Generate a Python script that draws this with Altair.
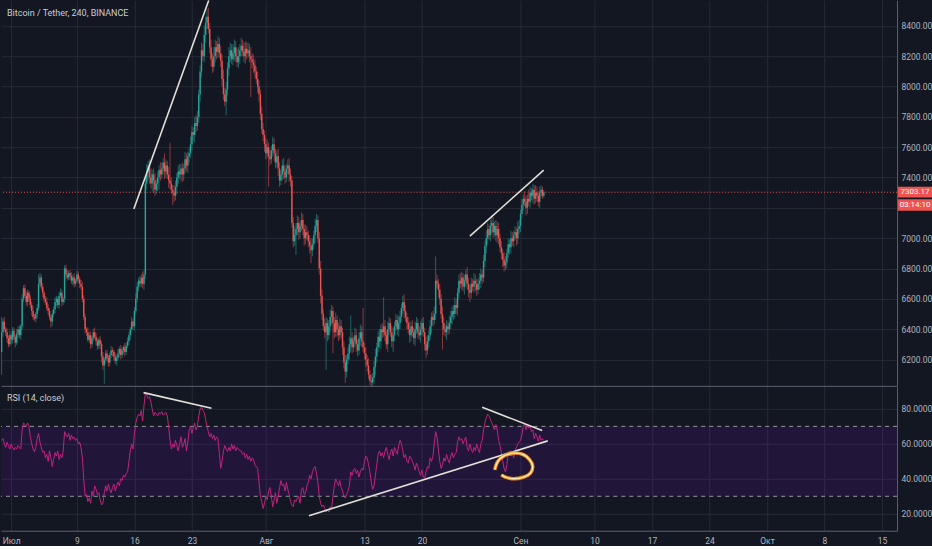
import altair as alt
import pandas as pd

BG = "#131722"
GRID = "#262a35"
DOMAIN = "#5d606b"
LABEL = "#b2b5be"
UP = "#26a69a"
DN = "#ef5350"
RSI_C = "#c0247e"
DRAW = "#e3e0d8"
FONT = "Roboto"
FS = 8.5

TITLE = "Bitcoin / Tether, 240, BINANCE"
RSI_TITLE = "RSI (14, close)"
LAST_PRICE = 7303.17
COUNTDOWN = "03:14:10"
FIRST_OPEN = 6250
HIDDEN_TICK = 7200  # covered by the countdown box in the reference

# 4h closes, from 2018-06-29 20:00
close = [6380, 6450, 6400,
         6380, 6340, 6300, 6360, 6330, 6390, 6350, 6310, 6370, 6400, 6360, 6420,
         6600, 6670,
         6620, 6580, 6640, 6600, 6560, 6520, 6480, 6470, 6500, 6540,
         6700, 6740,
         6680, 6640, 6600, 6580, 6540, 6520, 6480, 6450, 6500, 6530, 6580, 6600, 6560, 6620, 6640, 6580, 6600,
         6800,
         6760, 6740, 6770, 6750, 6720, 6740, 6700, 6720, 6760, 6730, 6700, 6680,
         6600, 6480, 6400,
         6380, 6330, 6360, 6300, 6340, 6380, 6350, 6320, 6290, 6330, 6300,
         6220, 6160,
         6200, 6240, 6210, 6180, 6230, 6260, 6250, 6220, 6190, 6210, 6240, 6270, 6230, 6260, 6280, 6250, 6290, 6320,
         6360, 6400, 6450, 6420,
         6520, 6600, 6680, 6720, 6700, 6740, 6700,
         6760, 7360,
         7440, 7480, 7400, 7360, 7420, 7380, 7320, 7360, 7400, 7450, 7420,
         7460, 7500, 7440, 7480, 7420, 7380, 7360, 7320,
         7300, 7280, 7340,
         7400, 7440, 7420, 7460, 7420, 7460, 7520, 7480, 7540, 7560,
         7620, 7700, 7680, 7760, 7740, 7800,
         7950, 8100, 8240, 8200,
         8340, 8420, 8460, 8380,
         8260, 8180, 8130,
         8200, 8260, 8230, 8280, 8220, 8170,
         8050, 7950, 7900, 7980,
         8120, 8200, 8240,
         8180, 8220, 8260, 8200, 8160, 8200, 8240, 8270, 8230, 8200, 8250, 8220, 8240, 8200, 8180, 8160, 8140,
         8100, 8050, 8000, 7950,
         7820, 7720, 7680,
         7620, 7560, 7600, 7540, 7520, 7580, 7620, 7560, 7500, 7540, 7460, 7380,
         7420, 7480, 7440, 7400, 7460, 7480, 7420, 7380,
         7100, 6980,
         7020, 7060, 7100, 7040, 7080, 7120, 7060, 7000, 7040, 7020, 6980, 6950, 6920, 6960, 7020, 7080, 7120,
         7000, 6800, 6620,
         6500, 6420, 6380, 6440, 6360,
         6420, 6480, 6520, 6440, 6380, 6460, 6400, 6360, 6420, 6380,
         6280, 6180, 6120, 6200, 6240,
         6300, 6340, 6280, 6320, 6360, 6300, 6260, 6340, 6380, 6320, 6280, 6240, 6200, 6160,
         6100, 6060, 6050, 6080, 6150,
         6220, 6280, 6350, 6320, 6400, 6380, 6420,
         6360, 6300, 6400, 6440, 6380, 6320, 6360, 6420, 6460, 6400, 6440, 6480,
         6540, 6580, 6520, 6480,
         6440, 6400, 6360, 6420, 6380, 6340, 6400, 6440, 6380, 6360, 6400,
         6440, 6380, 6300, 6260, 6320,
         6360, 6420, 6480, 6460, 6500,
         6720,
         6700, 6660, 6600,
         6500, 6440, 6400, 6380, 6420, 6400, 6440,
         6480, 6520, 6500, 6560, 6540,
         6640, 6720,
         6700, 6740, 6680, 6720, 6760, 6700, 6660, 6640, 6700, 6680, 6720, 6700, 6660, 6700, 6720, 6760, 6740,
         6850, 6950, 7000, 7060, 7020,
         7080, 7100, 7040, 7080, 7020, 7060, 7000,
         6940, 6900, 6860, 6820, 6840,
         6900, 6960, 6940, 7000, 6980, 7020, 7040, 7000, 7060, 7080,
         7160, 7220, 7260, 7240, 7200,
         7260, 7240, 7300, 7280, 7320, 7260, 7300, 7280, 7240, 7300, 7320, 7280, 7303.17]

hi_ext = [100, 20, 30, 15, 25, 20, 30, 10, 25, 20, 15, 30, 20, 25, 15, 30, 20, 25, 30, 20,
          15, 25, 20, 30, 20, 15, 25, 60, 30, 20, 25, 15, 20, 30, 25, 20, 15, 25, 20, 30,
          20, 15, 25, 30, 20, 15, 20, 25, 30, 15, 20, 25, 20, 30, 15, 25, 20, 15, 25, 30,
          25, 20, 15, 30, 20, 25, 15, 20, 30, 25, 20, 15, 25, 20, 30, 15, 20, 25, 20, 15,
          30, 20, 15, 25, 20, 30, 15, 25, 20, 15, 30, 20, 25, 20, 15, 30, 20, 25, 40, 30,
          20, 30, 25, 40, 30, 40, 50, 30, 40, 60, 30, 40, 50, 30, 40, 30, 50, 40, 30, 60,
          40, 30, 50, 250, 40, 30, 50, 40, 30, 40, 50, 30, 40, 30, 50, 40, 30, 40, 50, 40,
          30, 40, 50, 40, 30, 40, 50, 40, 60, 40, 50, 60, 40, 50, 40, 60, 50, 40, 50, 40,
          50, 40, 60, 40, 50, 40, 60, 50, 40, 60, 50, 40, 50, 60, 40, 50, 40, 60, 50, 40,
          50, 40, 60, 40, 50, 40, 30, 50, 40, 30, 50, 40, 30, 40, 50, 30, 40, 30, 50, 40,
          30, 40, 50, 40, 30, 40, 50, 40, 30, 40, 50, 40, 30, 40, 60, 40, 50, 40, 30, 50,
          40, 30, 50, 40, 30, 40, 50, 40, 30, 50, 40, 30, 40, 50, 40, 30, 50, 40, 30, 40,
          50, 40, 30, 40, 50, 30, 40, 50, 40, 30, 40, 50, 30, 40, 50, 150, 40, 30, 50, 40,
          30, 40, 50, 40, 220, 30, 40, 30, 50, 30, 40, 30, 40, 50, 30, 40, 50, 30, 40, 190,
          40, 30, 50, 40, 30, 40, 50, 30, 40, 30, 50, 40, 30, 40, 50, 40, 30, 40, 50, 30,
          40, 30, 50, 40, 30, 40, 50, 30, 40, 30, 50, 40, 30, 40, 30, 40, 50, 160, 40, 30,
          40, 30, 50, 40, 30, 40, 30, 50, 40, 30, 40, 50, 40, 30, 40, 50, 40, 30, 40, 30,
          50, 40, 30, 40, 30, 50, 40, 30, 40, 50, 40, 30, 40, 30, 50, 40, 30, 40, 50, 40,
          30, 40, 50, 40, 30, 40, 30, 50, 40, 30, 40, 30, 50, 40, 30, 40, 30, 50, 40, 30,
          40, 30, 50, 40, 30, 60, 40, 30, 40, 30, 50, 40, 30, 40, 30, 20, 15]

lo_ext = [150, 30, 20, 25, 30, 20, 15, 30, 25, 20, 30, 15, 25, 20, 30, 25, 20, 15, 25, 30,
          20, 25, 30, 20, 15, 25, 30, 20, 25, 20, 30, 25, 20, 15, 25, 20, 40, 30, 20, 25,
          30, 20, 25, 15, 30, 20, 25, 30, 20, 15, 25, 20, 30, 25, 20, 15, 25, 30, 20, 25,
          20, 30, 25, 15, 20, 30, 25, 20, 15, 30, 25, 20, 30, 40, 30, 120, 25, 20, 30, 25,
          20, 30, 25, 20, 30, 15, 25, 30, 20, 25, 30, 20, 15, 25, 30, 20, 25, 30, 20, 25,
          30, 25, 20, 30, 40, 30, 40, 60, 40, 30, 50, 80, 40, 30, 50, 80, 40, 30, 40, 50,
          40, 30, 50, 40, 30, 80, 40, 30, 50, 40, 30, 40, 50, 40, 30, 40, 50, 40, 30, 40,
          40, 50, 40, 30, 40, 50, 40, 30, 40, 50, 40, 30, 40, 50, 40, 30, 40, 50, 40, 30,
          40, 50, 40, 30, 90, 40, 50, 40, 30, 40, 50, 40, 30, 40, 50, 40, 30, 40, 50, 40,
          30, 40, 250, 40, 50, 40, 30, 40, 50, 40, 30, 40, 50, 40, 30, 200, 40, 30, 40, 50,
          40, 30, 50, 40, 30, 40, 50, 40, 30, 40, 50, 40, 30, 40, 30, 130, 40, 50, 40, 30,
          40, 50, 40, 30, 40, 50, 85, 40, 30, 50, 40, 30, 40, 50, 40, 30, 40, 250, 40, 30,
          40, 50, 200, 40, 30, 50, 40, 30, 40, 50, 40, 75, 40, 30, 40, 50, 40, 30, 40, 50,
          40, 30, 50, 40, 30, 40, 50, 40, 30, 30, 40, 30, 40, 50, 40, 30, 40, 50, 40, 30,
          40, 30, 50, 40, 30, 40, 70, 40, 30, 40, 50, 40, 30, 40, 50, 30, 40, 30, 50, 40,
          30, 40, 50, 30, 40, 30, 50, 40, 30, 40, 50, 30, 40, 30, 50, 40, 30, 40, 30, 50,
          40, 30, 175, 40, 30, 50, 40, 30, 40, 50, 40, 30, 40, 50, 40, 30, 40, 30, 50, 40,
          40, 50, 60, 40, 30, 40, 50, 40, 30, 40, 50, 40, 30, 40, 50, 40, 30, 40, 50, 40,
          30, 40, 50, 40, 30, 40, 50, 40, 30, 40, 30, 50, 40, 30, 40, 30, 50, 40, 30, 40,
          30, 40, 30, 50, 40, 30, 40, 30, 50, 40, 30, 40, 30, 40, 30, 20, 15]

rsi = [62, 63,
       60, 58, 61, 59, 57, 60, 58, 56.5,
       58, 57, 59, 58, 57,
       68, 72,
       71, 70, 72, 70,
       64, 60, 57, 55.5, 58,
       63, 66,
       61, 58, 55, 56, 52, 54, 50,
       56, 52, 47, 51,
       55, 53, 56, 51, 54, 52, 56,
       67, 65,
       64, 66, 62, 65, 63, 64, 62, 63,
       60, 61, 58, 52,
       40, 30,
       31, 27, 29, 26,
       33, 30, 36, 34, 31, 32,
       28, 25, 26,
       32, 36, 33, 37, 34, 32, 35, 37, 33, 36,
       38, 36, 40, 39, 42, 41, 43, 44,
       50, 56, 60, 57,
       66, 72, 75, 77, 76,
       79, 73,
       82, 89, 88, 86,
       87, 84, 80, 76, 78, 77, 76,
       78, 77, 78.5, 76.5, 77, 78, 76,
       70, 62, 57, 60,
       58, 62, 59, 56, 60, 64, 58, 60, 63, 56,
       61, 68, 70, 66, 69, 72, 68, 70,
       76, 80, 81, 79, 78,
       74, 70, 67,
       64, 66, 63, 65, 62, 64, 63,
       55, 46, 50,
       56, 59, 57, 55.6,
       58, 56, 60, 57, 59, 56, 58, 57, 56,
       56, 54, 55, 52, 54, 51, 53, 50, 52, 51,
       48, 47, 46,
       38, 30, 27, 23,
       26, 30, 28, 33, 35, 30, 24, 28, 32, 26,
       30, 35, 39, 36, 37, 33, 38, 34, 31, 27,
       25, 24, 28, 27, 29, 30, 26,
       34, 35, 31, 32,
       36, 38, 42, 40, 44, 46, 47, 43, 38,
       30, 26, 24,
       25, 23, 21, 22, 21, 24, 23,
       30, 36, 40, 38, 36, 39, 35, 33,
       30, 29, 31, 33, 36,
       44, 42, 45, 46, 43, 45, 41, 44, 46, 45,
       50, 53, 52, 48, 44,
       38, 34, 36, 42, 48,
       54, 56, 53, 55,
       52, 56, 58, 54, 51, 55, 57, 53, 58, 56, 54, 59, 62,
       60, 56, 52, 54, 50, 49, 53,
       52, 50, 48, 45, 49, 47, 44, 42, 45, 41,
       40.4, 44, 47, 46, 52, 50, 53,
       60, 67, 64,
       57, 50, 46, 48,
       52, 50, 54, 51, 49, 53, 55, 52, 54, 55,
       61, 64, 62, 63, 60, 62, 64,
       58, 56, 60, 57, 55, 58, 56, 60, 57, 55,
       60, 62,
       68, 72, 75, 77, 76, 74, 72,
       70, 68, 71, 68,
       62, 59, 55, 50, 46, 44, 48,
       54, 56, 53, 55, 52, 56, 58,
       60, 61, 62, 65,
       70, 72, 68, 71, 69, 70,
       67, 68, 63, 66, 64, 61.5, 65,
       62, 63, 62]

price_ticks = [6200, 6400, 6600, 6800, 7000, 7200, 7400, 7600, 7800, 8000, 8200, 8400]
rsi_ticks = [20, 40, 60, 80]
rsi_band = [30, 70]
tick_dates = [(7, 1), (7, 9), (7, 16), (7, 23), (8, 1), (8, 13), (8, 20),
              (9, 1), (9, 10), (9, 17), (9, 24), (10, 1), (10, 8), (10, 15)]

# hand-drawn lines: days since 1 July 2018, value
price_line_id = [1, 1, 2, 2]
price_line_day = [14.93, 24.05, 55.83, 64.82]
price_line_val = [7192, 8569, 7014, 7449]
rsi_line_id = [1, 1, 2, 2, 3, 3]
rsi_line_day = [16.11, 24.38, 36.25, 65.31, 57.33, 64.63]
rsi_line_val = [89.3, 80.4, 18.9, 61.7, 81.0, 67.6]
circle_day = [58.86, 59.23, 60.04, 61.17, 62.32, 63.12, 63.48, 63.21, 62.39, 61.17, 60.16, 59.68]
circle_val = [45.2, 49.9, 53.2, 54.7, 53.9, 50.9, 47.1, 43.3, 41.0, 40.0, 41.0, 42.3]

# ---------------- tables ----------------
start = pd.Timestamp("2018-06-29 20:00")
jul1 = pd.Timestamp("2018-07-01")
opens = [FIRST_OPEN] + close[:-1]
candles = pd.DataFrame({
    "t": [start + pd.Timedelta(hours=4 * i) for i in range(len(close))],
    "open": opens,
    "close": close,
})
candles["high"] = [max(o, c) + h for o, c, h in zip(opens, close, hi_ext)]
candles["low"] = [min(o, c) - l for o, c, l in zip(opens, close, lo_ext)]
rsi_df = pd.DataFrame({"t": [start + pd.Timedelta(hours=4 * i) for i in range(len(rsi))], "rsi": rsi})
pl_df = pd.DataFrame({"t": [jul1 + pd.Timedelta(days=d) for d in price_line_day],
                      "v": price_line_val, "id": price_line_id})
rl_df = pd.DataFrame({"t": [jul1 + pd.Timedelta(days=d) for d in rsi_line_day],
                      "v": rsi_line_val, "id": rsi_line_id})
circ_df = pd.DataFrame({"t": [jul1 + pd.Timedelta(days=d) for d in circle_day],
                        "v": circle_val, "o": list(range(len(circle_day)))})
last_df = pd.DataFrame({"p": [LAST_PRICE], "lbl": [f"{LAST_PRICE:.2f}"], "cd": [COUNTDOWN]})
band_df = pd.DataFrame({"lo": [rsi_band[0]], "hi": [rsi_band[1]]})
lvl_df = pd.DataFrame({"v": rsi_band})

W = 897
dom = [alt.DateTime(year=2018, month=6, date=29, hours=18, minutes=14),
       alt.DateTime(year=2018, month=10, date=16, hours=19, minutes=55)]
tvals = [alt.DateTime(year=2018, month=m, date=d) for m, d in tick_dates]
xs = alt.Scale(domain=dom)

x_top_axis = alt.Axis(values=tvals, labels=False, ticks=False, domain=True, domainColor=DOMAIN,
                      grid=True, gridColor=GRID, title=None)
label_expr = ("date(datum.value) == 1 ? ['Янв','Фев','Мар','Апр','Май','Июн','Июл','Авг','Сен','Окт','Ноя','Дек']"
              "[month(datum.value)] : '' + date(datum.value)")
x_bot_axis = alt.Axis(values=tvals, labelExpr=label_expr, ticks=False, domain=True, domainColor=DOMAIN,
                      grid=True, gridColor=GRID, title=None, labelColor=LABEL, labelFontSize=FS,
                      labelFont=FONT, labelPadding=6)

ps = alt.Scale(domain=[6026, 8569], nice=False, zero=False)
p_axis = alt.Axis(orient="right", values=price_ticks,
                  labelExpr=f"datum.value == {HIDDEN_TICK} ? '' : format(datum.value, '.2f')",
                  grid=True, gridColor=GRID,
                  ticks=False, domain=True, domainColor=DOMAIN, labelColor=LABEL, labelFontSize=FS,
                  labelFont=FONT, labelPadding=4, title=None)
rs = alt.Scale(domain=[10.3, 92.6], nice=False, zero=False)
r_axis = alt.Axis(orient="right", values=rsi_ticks, format=".4f", grid=True, gridColor=GRID,
                  ticks=False, domain=True, domainColor=DOMAIN, labelColor=LABEL, labelFontSize=FS,
                  labelFont=FONT, labelPadding=4, title=None)


def XT(axis):
    return alt.X("t:T", scale=xs, axis=axis)


def YP(f):
    return alt.Y(f, scale=ps, axis=p_axis)


def YR(f):
    return alt.Y(f, scale=rs, axis=r_axis)


color = alt.condition("datum.close >= datum.open", alt.value(UP), alt.value(DN))

# ---------------- price pane ----------------
pc = alt.Chart(candles)
wicks = pc.mark_rule(strokeWidth=1, opacity=0.55, clip=True).encode(
    x=XT(x_top_axis), y=YP("low:Q"), y2="high:Q", color=color)
bodies = pc.mark_rule(strokeWidth=1.4, clip=True).encode(
    x=XT(x_top_axis), y=YP("open:Q"), y2="close:Q", color=color)
last_line = alt.Chart(last_df).mark_rule(color=DN, strokeDash=[1, 2], strokeWidth=1).encode(y=YP("p:Q"))
plines = alt.Chart(pl_df).mark_line(color=DRAW, strokeWidth=1.6, clip=True).encode(
    x=XT(x_top_axis), y=YP("v:Q"), detail="id:N")
title = alt.Chart(pd.DataFrame({"s": [TITLE]})).mark_text(
    align="left", baseline="middle", font=FONT, fontSize=FS + 0.5, color="#c9ccd4").encode(
    text="s:N", x=alt.value(6), y=alt.value(13))
box1 = alt.Chart(last_df).mark_rect(color=DN, yOffset=-5.5, y2Offset=5.2).encode(
    x=alt.value(898), x2=alt.value(932), y=YP("p:Q"), y2="p:Q")
box2 = alt.Chart(last_df).mark_rect(color=DN, yOffset=7.1, y2Offset=18.5).encode(
    x=alt.value(898), x2=alt.value(932), y=YP("p:Q"), y2="p:Q")
txt1 = alt.Chart(last_df).mark_text(font=FONT, fontSize=8, color="#ffffff", baseline="middle",
                                    align="center").encode(x=alt.value(915), y=YP("p:Q"), text="lbl:N")
txt2 = alt.Chart(last_df).mark_text(font=FONT, fontSize=8, color="#ffffff", baseline="middle",
                                    align="center", dy=13).encode(x=alt.value(915), y=YP("p:Q"), text="cd:N")

price = alt.layer(last_line, wicks, bodies, plines, title, box1, box2, txt1, txt2).properties(
    width=W, height=386)

# ---------------- RSI pane ----------------
band = alt.Chart(band_df).mark_rect(color="#9915ff", opacity=0.11).encode(
    y=YR("lo:Q"), y2="hi:Q", x=alt.value(0), x2=alt.value(W))
levels = alt.Chart(lvl_df).mark_rule(color="#9598a1", strokeDash=[4, 4], strokeWidth=1).encode(y=YR("v:Q"))
rline = alt.Chart(rsi_df).mark_line(color=RSI_C, strokeWidth=1, clip=True).encode(
    x=XT(x_bot_axis), y=YR("rsi:Q"))
rlines = alt.Chart(rl_df).mark_line(color=DRAW, strokeWidth=1.6, clip=True).encode(
    x=XT(x_bot_axis), y=YR("v:Q"), detail="id:N")
circ_o = alt.Chart(circ_df).mark_line(color="#f08a1c", strokeWidth=3.6, interpolate="cardinal").encode(
    x=XT(x_bot_axis), y=YR("v:Q"), order="o:Q")
circ_i = alt.Chart(circ_df).mark_line(color="#fff0b8", strokeWidth=1.4, interpolate="cardinal").encode(
    x=XT(x_bot_axis), y=YR("v:Q"), order="o:Q")
rtitle = alt.Chart(pd.DataFrame({"s": [RSI_TITLE]})).mark_text(
    align="left", baseline="middle", font=FONT, fontSize=FS + 0.5, color="#c9ccd4").encode(
    text="s:N", x=alt.value(6), y=alt.value(11))

rsi_pane = alt.layer(band, levels, rline, rlines, circ_o, circ_i, rtitle).properties(width=W, height=144)

chart = alt.vconcat(price, rsi_pane, spacing=1).properties(
    background=BG, padding=0
).configure_view(stroke=None)

chart.save("out.html", embed_options={"renderer": "svg", "actions": False})
